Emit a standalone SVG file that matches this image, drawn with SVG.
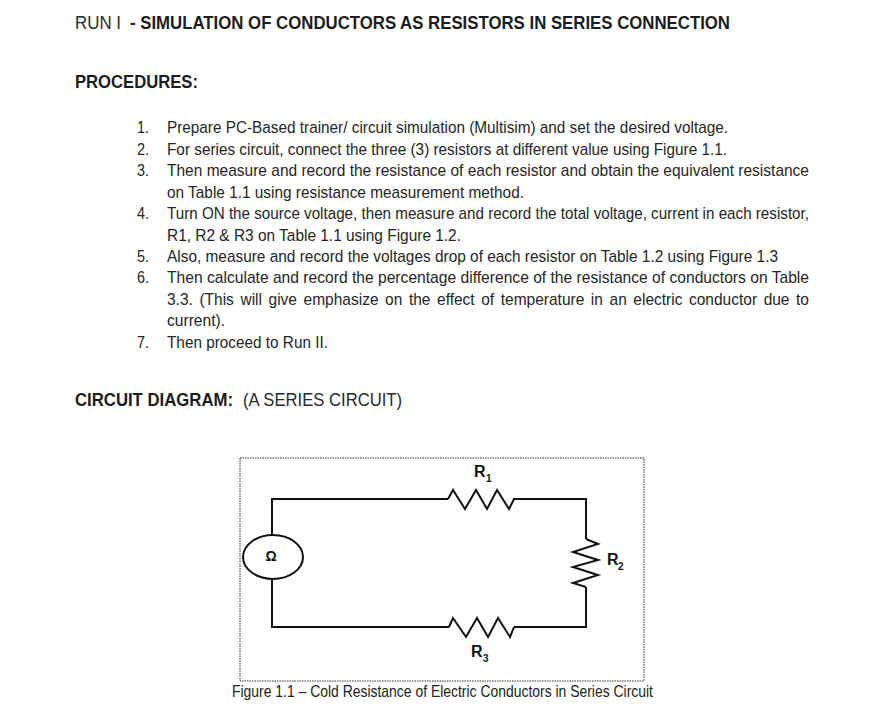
<svg xmlns="http://www.w3.org/2000/svg" width="892" height="722" viewBox="0 0 892 722">
<style>
text{font-family:"Liberation Sans",Arial,sans-serif;fill:#1c1c1c}
.h{font-size:19px;font-weight:bold}
.hr{font-size:19px;fill:#2a2a2a}
.t{font-size:17px;fill:#262626}
.j{word-spacing:2.5px}
.c{font-size:16.500px;fill:#222}
.l{font-size:16px;font-weight:bold;fill:#111}
.o{font-size:14px;font-weight:bold;fill:#111}
.s{font-size:10px;font-weight:bold;fill:#111}
.w{fill:none;stroke:#111;stroke-width:2;stroke-linejoin:miter}
</style>
<rect width="892" height="722" fill="#fff"/>
<g id="heading">
<text class="hr" x="75" y="29" textLength="46" lengthAdjust="spacingAndGlyphs">RUN I</text>
<text class="h" x="130" y="29" textLength="600" lengthAdjust="spacingAndGlyphs">- SIMULATION OF CONDUCTORS AS RESISTORS IN SERIES CONNECTION</text>
<text class="h" x="75" y="88" textLength="123" lengthAdjust="spacingAndGlyphs">PROCEDURES:</text>
</g>
<g id="procedures">
<text class="t" x="137" y="133" textLength="12" lengthAdjust="spacingAndGlyphs">1.</text>
<text class="t" x="167" y="133" textLength="561" lengthAdjust="spacingAndGlyphs">Prepare PC-Based trainer/ circuit simulation (Multisim) and set the desired voltage.</text>
<text class="t" x="137" y="155" textLength="12" lengthAdjust="spacingAndGlyphs">2.</text>
<text class="t" x="167" y="155" textLength="560" lengthAdjust="spacingAndGlyphs">For series circuit, connect the three (3) resistors at different value using Figure 1.1.</text>
<text class="t" x="137" y="176" textLength="12" lengthAdjust="spacingAndGlyphs">3.</text>
<text class="t" x="167" y="176" textLength="642" lengthAdjust="spacingAndGlyphs">Then measure and record the resistance of each resistor and obtain the equivalent resistance</text>
<text class="t" x="167" y="198" textLength="357" lengthAdjust="spacingAndGlyphs">on Table 1.1 using resistance measurement method.</text>
<text class="t" x="137" y="219" textLength="12" lengthAdjust="spacingAndGlyphs">4.</text>
<text class="t" x="167" y="219" textLength="642" lengthAdjust="spacingAndGlyphs">Turn ON the source voltage, then measure and record the total voltage, current in each resistor,</text>
<text class="t" x="167" y="241" textLength="294" lengthAdjust="spacingAndGlyphs">R1, R2 &amp; R3 on Table 1.1 using Figure 1.2.</text>
<text class="t" x="137" y="262" textLength="12" lengthAdjust="spacingAndGlyphs">5.</text>
<text class="t" x="167" y="262" textLength="611" lengthAdjust="spacingAndGlyphs">Also, measure and record the voltages drop of each resistor on Table 1.2 using Figure 1.3</text>
<text class="t" x="137" y="283" textLength="12" lengthAdjust="spacingAndGlyphs">6.</text>
<text class="t" x="167" y="283" textLength="642" lengthAdjust="spacingAndGlyphs">Then calculate and record the percentage difference of the resistance of conductors on Table</text>
<text class="t j" x="167" y="305" textLength="642" lengthAdjust="spacingAndGlyphs">3.3. (This will give emphasize on the effect of temperature in an electric conductor due to</text>
<text class="t" x="167" y="326" textLength="58" lengthAdjust="spacingAndGlyphs">current).</text>
<text class="t" x="137" y="348" textLength="12" lengthAdjust="spacingAndGlyphs">7.</text>
<text class="t" x="167" y="348" textLength="161" lengthAdjust="spacingAndGlyphs">Then proceed to Run II.</text>
</g>
<g id="circuit-heading">
<text class="h" x="75" y="406" textLength="158" lengthAdjust="spacingAndGlyphs">CIRCUIT DIAGRAM:</text>
<text class="hr" x="243" y="406" textLength="159" lengthAdjust="spacingAndGlyphs">(A SERIES CIRCUIT)</text>
</g>
<rect id="frame" x="240" y="458" width="404" height="223" fill="none" stroke="#333" stroke-width="1" stroke-dasharray="1.500 1"/>
<g id="connectors">
<path class="w" d="M272 535V499H448"/>
<path class="w" d="M513 499H586V539"/>
<path class="w" d="M586 587V627H514"/>
<path class="w" d="M449 627H272V580"/>
</g>
<g id="source">
<ellipse cx="273" cy="557" rx="30" ry="22" fill="#fff" stroke="#111" stroke-width="2"/>
<text class="o" x="271" y="561" text-anchor="middle">Ω</text>
</g>
<g id="R1">
<polyline class="w" points="448,499 453,490 465,509 476,490 487,509 497,490 509,509 514,499"/>
<text class="l" x="474" y="477">R</text><text class="s" x="486" y="482">1</text>
</g>
<g id="R2">
<polyline class="w" points="586,539 598,544 573,552 598,560 573,567 598,575 573,583 586,587"/>
<text class="l" x="607" y="565">R</text><text class="s" x="618" y="570">2</text>
</g>
<g id="R3">
<polyline class="w" points="449,627 453,618 466,637 477,618 488,637 498,618 510,637 514,627"/>
<text class="l" x="471" y="657">R</text><text class="s" x="483" y="662">3</text>
</g>
<text id="caption" class="c" x="232" y="697" textLength="421" lengthAdjust="spacingAndGlyphs">Figure 1.1 – Cold Resistance of Electric Conductors in Series Circuit</text>
</svg>
